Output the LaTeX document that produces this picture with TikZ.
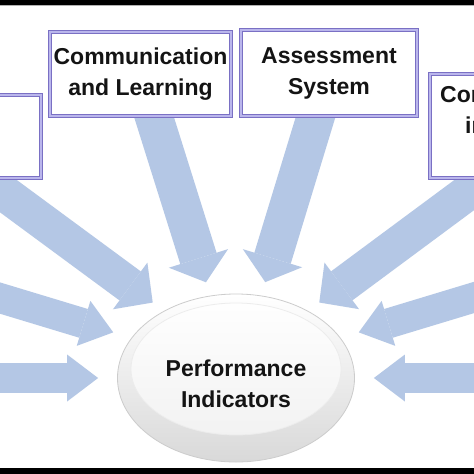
\documentclass[tikz,border=0pt]{standalone}
\usepackage{fontspec}
\setmainfont{Liberation Sans}
\usepackage{tikz}
\definecolor{lavender}{RGB}{122,112,196}
\definecolor{lilac}{RGB}{186,182,236}
\definecolor{steel}{RGB}{180,199,229}
\definecolor{ink}{RGB}{20,20,20}
\usetikzlibrary{shapes.geometric, arrows.meta, backgrounds}
\tikzstyle{box} = [rectangle, inner sep=0pt, draw=lavender, line width=1.1pt, double=lilac, double distance=2.4pt, fill=white, text=ink, align=center, font=\fontsize{23}{31}\selectfont\bfseries]
\tikzstyle{word} = [inner sep=0pt, text=ink, font=\fontsize{23}{31}\selectfont\bfseries]
\tikzstyle{oval} = [ellipse, minimum width=237pt, minimum height=168pt, inner sep=0pt, draw=gray!40, line width=0.8pt, top color=white, bottom color=gray!30, text=ink, font=\fontsize{23}{31}\selectfont\bfseries, path picture={\shade[top color=white, bottom color=gray!12, draw=gray!15] ([yshift=9pt]path picture bounding box.center) ellipse [x radius=105pt, y radius=66pt];}]
\tikzstyle{bigarrow} = [draw=steel, line width=38pt, -{Triangle[width=62pt, length=25pt, line width=0pt]}, shorten <=-12pt, shorten >=14pt]
\tikzstyle{slantarrow} = [draw=steel, line width=36pt, -{Triangle[width=58pt, length=28pt, line width=0pt]}, shorten <=-12pt, shorten >=14pt]
\tikzstyle{sidearrow} = [draw=steel, line width=30pt, -{Triangle[width=47pt, length=31pt, line width=0pt]}, shorten >=19pt]

\begin{document}
\begin{tikzpicture}[x=1pt, y=-1pt]
        \useasboundingbox (0,0) rectangle (474,474);
        \node (node0) [box, minimum width=113pt, minimum height=83pt] at (-15.5,136.5) {};
        \node (node1) [box, minimum width=181pt, minimum height=84pt] at (140.5,74) {Communication\\and Learning};
        \node (node2) [box, minimum width=176pt, minimum height=86pt] at (329,73) {Assessment\\System};
        \node (node3) [box, minimum width=113pt, minimum height=104pt] at (486.5,126) {};
        \node (node4) [oval] at (236,378) {\raisebox{-8pt}[\height][\depth]{\begin{tabular}{@{}c@{}}Performance\\Indicators\end{tabular}}};
        \node (node5) [word, anchor=base west] at (440,102) {Com};
        \node (node6) [word, anchor=base west] at (465,133) {in};

        \coordinate (in0) at (-20,292);
        \coordinate (in1) at (-20,378);
        \coordinate (in2) at (492,292);
        \coordinate (in3) at (492,378);

        \begin{scope}[on background layer]
        \fill [white] (0,0) rectangle (474,474);
        \draw [bigarrow] (node1) -- (node4);
        \draw [bigarrow] (node2) -- (node4);
        \draw [slantarrow] (node0.south) -- (node4.137);
        \draw [slantarrow] (node3.south) -- (node4.43);
        \draw [sidearrow] (in0) -- (node4.159);
        \draw [sidearrow] (in1) -- (node4.west);
        \draw [sidearrow] (in2) -- (node4.21);
        \draw [sidearrow] (in3) -- (node4.east);
        \end{scope}

        \fill [black] (0,0) rectangle (474,4.5);
        \draw [gray!60] (0,5) -- (474,5);
        \fill [black] (0,468) rectangle (474,474);
    \end{tikzpicture}
\end{document}
